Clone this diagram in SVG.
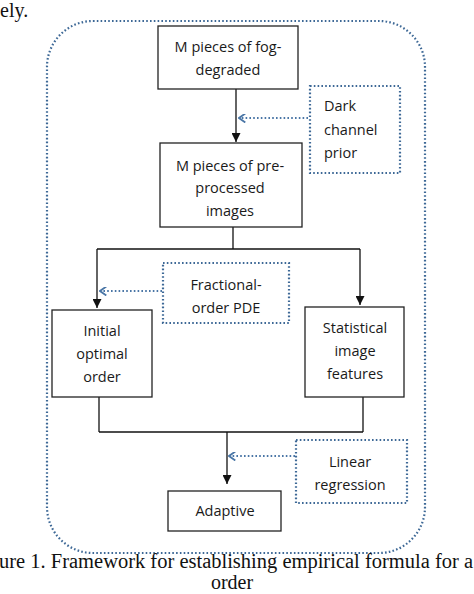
<svg xmlns="http://www.w3.org/2000/svg" width="474" height="594" viewBox="0 0 474 594">
<defs>
<style>
.box{fill:#fff;stroke:#222;stroke-width:1.3}
.dbox{fill:none;stroke:#3d6896;stroke-width:2.2;stroke-dasharray:1.6 2.2}
.ln{fill:none;stroke:#111;stroke-width:1.3}
.dl{fill:none;stroke:#4a76a6;stroke-width:2.2;stroke-dasharray:1.6 2.2}
.t{font-family:"Open Sans","Liberation Sans",sans-serif;font-size:14.5px;fill:#1a1a1a;text-anchor:middle}
.tl{font-family:"Open Sans","Liberation Sans",sans-serif;font-size:14.5px;fill:#1a1a1a}
.cap{font-family:"Liberation Serif",serif;font-size:20px;fill:#111}
</style>
<marker id="ah" viewBox="0 0 10 10" refX="10" refY="5" markerWidth="9" markerHeight="9" markerUnits="userSpaceOnUse" orient="auto">
<path d="M0,0 L10,5 L0,10 Z" fill="#111"/>
</marker>
<marker id="oh" viewBox="0 0 10 10" refX="9" refY="5" markerWidth="9" markerHeight="9" markerUnits="userSpaceOnUse" orient="auto">
<path d="M2,0 L9,5 L2,10" fill="none" stroke="#4a76a6" stroke-width="2"/>
</marker>
</defs>
<rect width="474" height="594" fill="#fff"/>
<text class="cap" x="0" y="17">ely.</text>
<g id="frame">
<rect x="47" y="21" width="378" height="532" rx="46" ry="46" class="dbox"/>
</g>
<g id="connectors">
<line class="ln" x1="236" y1="89" x2="236" y2="142" marker-end="url(#ah)"/>
<line class="dl" x1="308" y1="118" x2="239" y2="118" marker-end="url(#oh)"/>
<line class="ln" x1="233" y1="227" x2="233" y2="249"/>
<line class="ln" x1="97" y1="249" x2="360" y2="249"/>
<line class="ln" x1="97" y1="249" x2="97" y2="308" marker-end="url(#ah)"/>
<line class="ln" x1="360" y1="249" x2="360" y2="305" marker-end="url(#ah)"/>
<line class="dl" x1="162" y1="291" x2="100" y2="291" marker-end="url(#oh)"/>
<line class="ln" x1="99" y1="397" x2="99" y2="432"/>
<line class="ln" x1="363" y1="397" x2="363" y2="432"/>
<line class="ln" x1="99" y1="432" x2="363" y2="432"/>
<line class="ln" x1="227" y1="432" x2="227" y2="484" marker-end="url(#ah)"/>
<line class="dl" x1="295" y1="456" x2="229" y2="456" marker-end="url(#oh)"/>
</g>
<g id="fog">
<rect class="box" x="158" y="26" width="140" height="63"/>
<text class="t" x="228" y="52">M pieces of fog-</text>
<text class="t" x="228" y="75">degraded</text>
</g>
<g id="dark">
<rect class="dbox" x="310" y="86" width="90" height="87"/>
<text class="tl" x="324" y="111">Dark</text>
<text class="tl" x="324" y="135">channel</text>
<text class="tl" x="324" y="158">prior</text>
</g>
<g id="pre">
<rect class="box" x="160" y="143" width="142" height="84"/>
<text class="t" x="230" y="171">M pieces of pre-</text>
<text class="t" x="230" y="193">processed</text>
<text class="t" x="230" y="216">images</text>
</g>
<g id="frac">
<rect class="dbox" x="163" y="263" width="126" height="60"/>
<text class="t" x="226" y="290">Fractional-</text>
<text class="t" x="226" y="313">order PDE</text>
</g>
<g id="initial">
<rect class="box" x="52" y="310" width="100" height="87"/>
<text class="t" x="102" y="336">Initial</text>
<text class="t" x="102" y="359">optimal</text>
<text class="t" x="102" y="382">order</text>
</g>
<g id="stat">
<rect class="box" x="305" y="307" width="99" height="90"/>
<text class="t" x="355" y="333">Statistical</text>
<text class="t" x="355" y="356">image</text>
<text class="t" x="355" y="379">features</text>
</g>
<g id="linear">
<rect class="dbox" x="296" y="440" width="111" height="63"/>
<text class="t" x="350" y="467">Linear</text>
<text class="t" x="350" y="490">regression</text>
</g>
<g id="adaptive">
<rect class="box" x="168" y="491" width="113" height="40"/>
<text class="t" x="225" y="516">Adaptive</text>
</g>
<text class="cap" x="-1" y="568" textLength="474" lengthAdjust="spacingAndGlyphs">ure 1. Framework for establishing empirical formula for a</text>
<text class="cap" x="232" y="589" text-anchor="middle">order</text>
</svg>
